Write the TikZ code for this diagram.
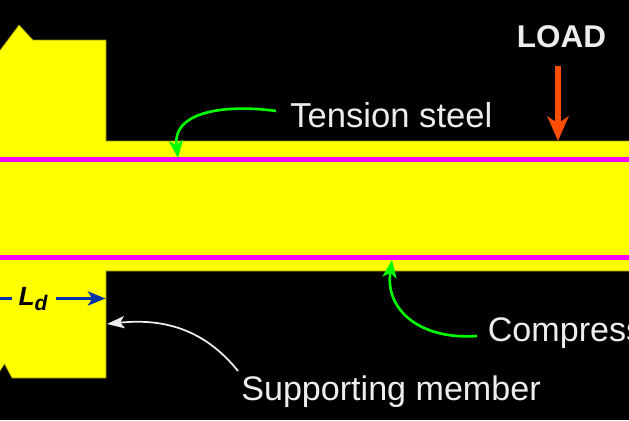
\documentclass[tikz,border=0pt]{standalone}
\usepackage{fontspec}
\setmainfont{Liberation Sans}
\usetikzlibrary{arrows.meta}
\definecolor{beam}{HTML}{FFFF00}
\definecolor{rebar}{HTML}{FF00FF}
\definecolor{lead}{HTML}{00FF00}
\definecolor{loadc}{HTML}{FF4D00}
\definecolor{dimc}{HTML}{0033AA}
\definecolor{txtc}{HTML}{EDEDED}
\tikzset{
  label/.style={text=txtc,inner sep=0pt,font=\fontsize{19.4}{22}\selectfont},
  leadg/.style={draw=lead,line width=1.5pt,-{Stealth[length=10pt,width=8pt,inset=2.5pt]}},
  leadw/.style={draw=txtc,line width=1pt,-{Stealth[length=10pt,width=7pt,inset=2.5pt]}},
  dimarrow/.style={draw=dimc,line width=2.2pt},
}
\newcommand{\rebarat}[1]{\fill[rebar] (0,#1-2.4) rectangle (629,#1+2.4);}
\begin{document}
\begin{tikzpicture}[x=0.02cm,y=-0.02cm]
\useasboundingbox (0,0) rectangle (629,420);
\clip (0,0) rectangle (629,420);
\fill[black] (0,0) rectangle (629,420);
% wall and beam
\filldraw[fill=beam,draw=beam!55!black,line width=0.3pt]
  (-2,53) -- (19,25) -- (33,40) -- (106,40) -- (106,141) -- (631,141) -- (631,271)
  -- (106,271) -- (106,378) -- (12,378) -- (4.5,364) -- (-2,374) -- cycle;
\rebarat{159.5}
\rebarat{257.5}
% labels
\node[label,anchor=west,font=\fontsize{19.7}{22}\selectfont] (tension) at (290,115.5) {Tension steel};
\node[label,anchor=west] (compress) at (487.5,333) {Compress};
\node[label,anchor=west] (support) at (241,392) {Supporting member};
\node[label,font=\bfseries\fontsize{17.9}{20}\selectfont] (load) at (561.5,37) {LOAD};
\node[inner sep=0pt,font=\bfseries\itshape\fontsize{15}{18}\selectfont] (ld) at (33,299)
  {L\raisebox{-3pt}{\fontsize{12}{14}\selectfont d}};
% end points
\coordinate (tensionend) at (178,158);
\coordinate (compressend) at (392,260);
\coordinate (wallface) at (107,324);
\coordinate (loadstart) at (558,66);
\coordinate (loadend) at (558,141);
\coordinate (ldleft) at (-2,298.5);
\coordinate (ldright) at (105.5,298.5);
% leaders
\draw[leadg] (276,111) .. controls (235,105) and (172,108) .. (tensionend);
\draw[leadg] (477,336) .. controls (420,340) and (385,310) .. (compressend);
\draw[leadw] (238,371) .. controls (205,330) and (165,318) .. (wallface);
\draw[draw=loadc,line width=3.4pt,-{Stealth[length=14pt,width=12pt,inset=4pt]}] (loadstart) -- (loadend);
\draw[dimarrow] (ldleft) -- (12,298.5);
\draw[dimarrow,-{Stealth[length=10pt,width=8pt,inset=2.5pt]}] (56,298.5) -- (ldright);
\end{tikzpicture}
\end{document}
